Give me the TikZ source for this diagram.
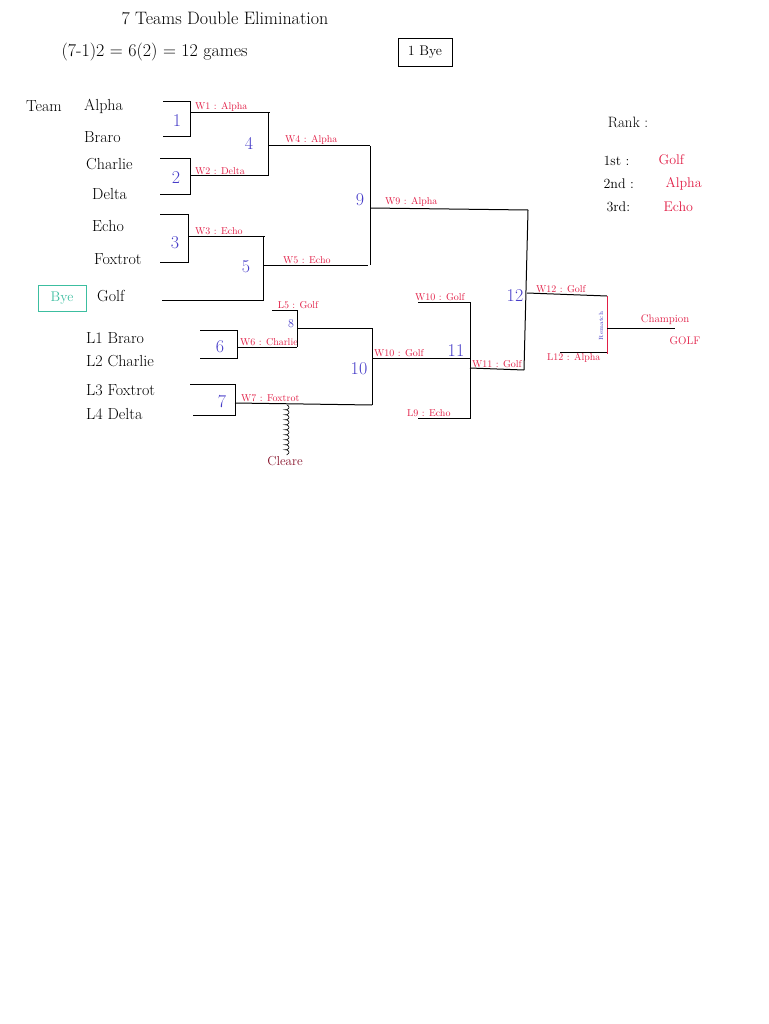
\documentclass[tikz,border=0pt]{standalone}
\usetikzlibrary{decorations.pathmorphing}
\definecolor{hred}{RGB}{225,30,70}
\definecolor{hblue}{RGB}{70,60,200}
\definecolor{hgreen}{RGB}{60,190,160}
\begin{document}
\begin{tikzpicture}[x=1pt,y=-1pt,
  team/.style={font=\fontsize{16}{18}\selectfont,anchor=west,inner sep=0},
  win/.style={font=\fontsize{10}{11}\selectfont,text=hred,anchor=south west,inner sep=1pt},
  gnum/.style={font=\fontsize{18}{20}\selectfont,text=hblue,inner sep=0},
  br/.style={line width=1pt,black}]
\useasboundingbox (0,0) rectangle (768,1024);
% titles
\node[font=\fontsize{18}{20}\selectfont,anchor=west] (t1) at (118,18) {7 Teams Double Elimination};
\node[font=\fontsize{18}{20}\selectfont,anchor=west] (t2) at (58,52) {(7-1)2 = 6(2) = 12 games};
\node[draw,line width=0.8pt,font=\fontsize{14}{16}\selectfont,minimum width=54,minimum height=28] (bye1) at (425,52) {1 Bye};
% teams
\node[team] (team) at (26,106) {Team};
\node[team] (alpha) at (84,106) {Alpha};
\node[team] (bravo) at (84,137) {Braro};
\node[team] (charlie) at (86,164) {Charlie};
\node[team] (delta) at (92,194) {Delta};
\node[team] (echo) at (92,226) {Echo};
\node[team] (fox) at (94,259) {Foxtrot};
\node[team] (golf) at (97,296) {Golf};
\node[draw=hgreen,text=hgreen,font=\fontsize{14}{16}\selectfont,minimum width=48,minimum height=26] (byebox) at (62,298) {Bye};
\node[team] (l1) at (86,338) {L1 Braro};
\node[team] (l2) at (86,361) {L2 Charlie};
\node[team] (l3) at (86,390) {L3 Foxtrot};
\node[team] (l4) at (86,414) {L4 Delta};
% game 1
\draw[br] (163,102) -- (190,102) -- (190,137) -- (163,137);
\node[gnum] (g1) at (177,121) {1};
\draw[br] (190,113) -- (270,113);
\node[win] (w1) at (194,113) {W1 : Alpha};
% game 2
\draw[br] (160,159) -- (190,159) -- (190,195) -- (160,195);
\node[gnum] (g2) at (176,178) {2};
\draw[br] (190,176) -- (268,176);
\node[win] (w2) at (194,176) {W2 : Delta};
% game 4
\draw[br] (268,113) -- (268,176);
\node[gnum] (g4) at (249,143) {4};
\draw[br] (268,146) -- (370,146);
\node[win] (w4) at (284,146) {W4 : Alpha};
% game 3
\draw[br] (160,215) -- (188,215) -- (188,262) -- (160,262);
\node[gnum] (g3) at (175,243) {3};
\draw[br] (188,236) -- (265,236);
\node[win] (w3) at (194,236) {W3 : Echo};
% golf & game 5
\draw[br] (162,300) -- (263,300) -- (263,236);
\node[gnum] (g5) at (246,267) {5};
\draw[br] (263,265) -- (368,265);
\node[win] (w5) at (282,265) {W5 : Echo};
% game 9
\draw[br] (370,146) -- (370,265);
\node[gnum] (g9) at (360,200) {9};
\draw[br] (370,208) -- (528,210);
\node[win] (w9) at (384,208) {W9 : Alpha};
% game 6
\draw[br] (200,330) -- (237,330) -- (237,358) -- (200,358);
\node[gnum] (g6) at (220,347) {6};
\draw[br] (237,347) -- (297,347);
\node[win] (w6) at (239,347) {W6 : Charlie};
% game 8
\draw[br] (272,310) -- (297,310) -- (297,347);
\node[win,anchor=south] (l5) at (298,310) {L5 : Golf};
\node[gnum,font=\fontsize{12}{14}\selectfont] (g8) at (291,324) {8};
\draw[br] (297,328) -- (373,328);
% game 7
\draw[br] (190,384) -- (235,384) -- (235,415) -- (193,415);
\node[gnum] (g7) at (222,402) {7};
\draw[br] (235,403) -- (372,405);
\node[win] (w7) at (240,403) {W7 : Foxtrot};
\draw[decorate,decoration={coil,aspect=0.5,segment length=5pt,amplitude=2pt},line width=0.6pt] (287,405) -- (287,455);
\node[text=hred!60!black,font=\fontsize{13}{15}\selectfont] (clr) at (285,461) {Cleare};
% game 10
\draw[br] (372,328) -- (372,405);
\node[gnum] (g10) at (359,369) {10};
\draw[br] (372,358) -- (470,358);
\node[win] (w10) at (373,358) {W10 : Golf};
% game 11
\draw[br] (418,302) -- (470,302) -- (470,418) -- (418,418);
\node[win] (w10b) at (414,302) {W10 : Golf};
\node[win] (l9) at (406,418) {L9 : Echo};
\node[gnum] (g11) at (456,351) {11};
\draw[br] (470,368) -- (524,370);
\node[win] (w11) at (471,369) {W11 : Golf};
% game 12
\draw[br] (528,210) -- (524,370);
\node[gnum] (g12) at (515,296) {12};
\draw[br] (527,293) -- (607,296);
\node[win] (w12) at (535,294) {W12 : Golf};
\draw[br] (560,352) -- (607,352);
\node[win,anchor=north west] (l12) at (546,352) {L12 : Alpha};
\draw[hred,line width=1pt] (607,296) -- (607,354);
\node[text=hblue,font=\fontsize{6}{7}\selectfont,rotate=90] (rm) at (601,326) {Rematch};
\draw[br] (607,328) -- (675,328);
\node[text=hred,font=\fontsize{11}{13}\selectfont] (champ) at (665,320) {Champion};
\node[text=hred,font=\fontsize{11}{13}\selectfont] (cgolf) at (685,341) {GOLF};
% rank
\node[font=\fontsize{15}{17}\selectfont] (rank) at (628,122) {Rank :};
\node[font=\fontsize{14}{16}\selectfont,anchor=west] (r1) at (600,161) {1st :};
\node[font=\fontsize{14}{16}\selectfont,anchor=west] (r2) at (600,184) {2nd :};
\node[font=\fontsize{14}{16}\selectfont,anchor=west] (r3) at (603,207) {3rd:};
\node[text=hred,font=\fontsize{14}{16}\selectfont,anchor=west] (r1n) at (655,160) {Golf};
\node[text=hred,font=\fontsize{14}{16}\selectfont,anchor=west] (r2n) at (662,184) {Alpha};
\node[text=hred,font=\fontsize{14}{16}\selectfont,anchor=west] (r3n) at (660,207) {Echo};
\end{tikzpicture}
\end{document}
